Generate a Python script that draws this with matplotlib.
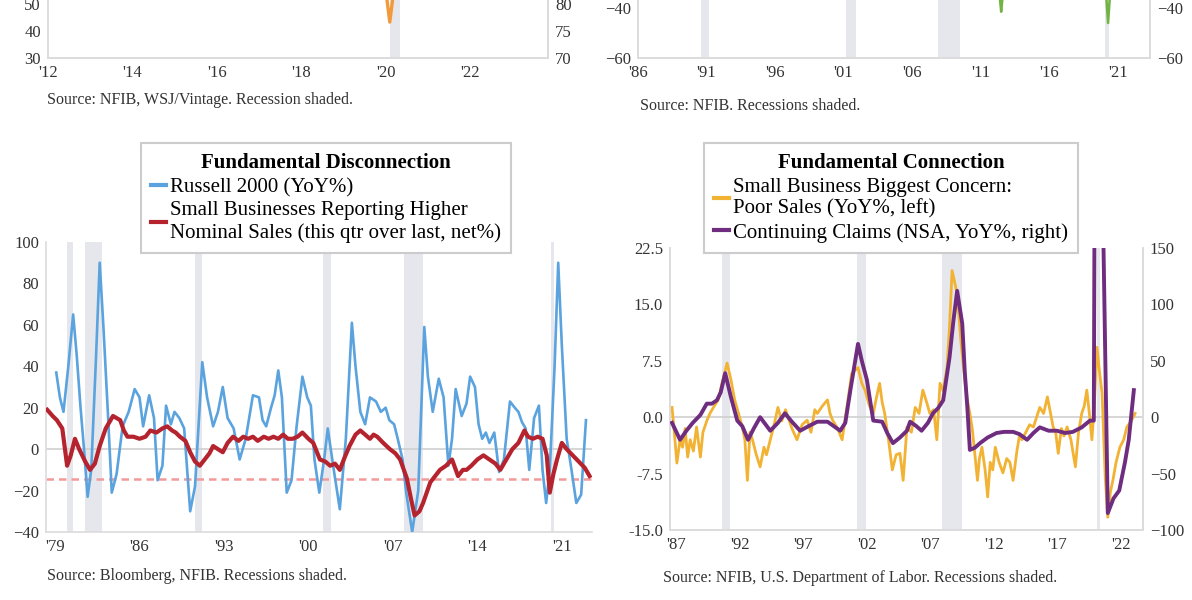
import numpy as np
import matplotlib
matplotlib.use("Agg")
import matplotlib.pyplot as plt
from matplotlib.lines import Line2D

plt.rcParams['font.family'] = ['Liberation Serif', 'DejaVu Serif']

W, H = 1192, 600

# NBER recessions (start, end), decimal years
recessions = [(1980.0, 1980.5), (1981.5, 1982.9), (1990.6, 1991.2),
              (2001.2, 2001.9), (2007.9, 2009.5), (2020.1, 2020.35)]

# --- top-left panel (only the bottom strip is visible) ---
orange_t = [2019.5, 2019.95, 2020.1, 2020.25, 2020.7]
orange_v = [70, 62, 43.3, 62, 70]

# --- top-right panel (only the bottom strip is visible) ---
green_t = [2011.8, 2012.3, 2012.5, 2012.7, 2013.2,
           2019.6, 2020.1, 2020.3, 2020.5, 2021.0]
green_v = [-25, -30, -41.5, -30, -22, -20, -30, -46, -30, -18]

# --- Fundamental Disconnection ---
russell_t = [1979.1, 1979.4, 1979.7, 1980.1, 1980.5, 1980.8, 1981.1, 1981.4,
             1981.7, 1982.0, 1982.4, 1982.7, 1983.0, 1983.4, 1983.7, 1984.1,
             1984.6, 1985.1, 1985.6, 1986.0, 1986.3, 1986.8, 1987.2, 1987.5,
             1987.9, 1988.2, 1988.6, 1988.9, 1989.3, 1989.7, 1990.2, 1990.6,
             1991.2, 1991.6, 1992.1, 1992.5, 1992.9, 1993.3, 1993.8, 1994.3,
             1994.8, 1995.4, 1995.9, 1996.2, 1996.5, 1996.9, 1997.2, 1997.5,
             1997.8, 1998.2, 1998.6, 1999.0, 1999.5, 1999.9, 2000.2, 2000.5,
             2000.9, 2001.3, 2001.6, 2002.1, 2002.6, 2003.1, 2003.6, 2003.9,
             2004.3, 2004.7, 2005.1, 2005.6, 2006.0, 2006.4, 2006.7, 2007.1,
             2007.4, 2007.8, 2008.1, 2008.6, 2009.1, 2009.6, 2009.9, 2010.3,
             2010.8, 2011.2, 2011.6, 2011.9, 2012.2, 2012.7, 2013.1, 2013.4,
             2013.8, 2014.1, 2014.4, 2014.7, 2015.0, 2015.4, 2015.8, 2016.2,
             2016.7, 2017.1, 2017.4, 2017.7, 2018.0, 2018.3, 2018.7, 2019.1,
             2019.4, 2019.7, 2020.0, 2020.4, 2020.7, 2021.0, 2021.4, 2021.8,
             2022.2, 2022.6, 2023.0]
russell_v = [37, 25, 18, 40, 65, 45, 21, 0,
             -23, -10, 45, 90, 60, 15, -21, -12,
             11, 18, 29, 25, 11, 26, 15, -15,
             -8, 21, 12, 18, 15, 10, -30, -18,
             42, 25, 11, 18, 30, 15, 10, -5,
             5, 26, 25, 14, 11, 20, 26, 38,
             25, -21, -15, 10, 35, 25, 21, -5,
             -21, -5, 10, -10, -29, 5, 61, 40,
             18, 12, 25, 23, 18, 20, 14, 12,
             5, -5, -21, -40, -20, 59, 35, 18,
             34, 25, -8, 5, 29, 16, 22, 35,
             30, 12, 5, 8, 3, 8, -11, -5,
             23, 20, 18, 13, 10, -10, 15, 21,
             -10, -26, -10, 40, 90, 50, 5, -10,
             -26, -22, 14]

sales_t = [1978.35, 1978.8, 1979.15, 1979.6, 1980.0, 1980.3, 1980.65, 1981.0,
           1981.5, 1981.9, 1982.3, 1982.7, 1983.2, 1983.8, 1984.1, 1984.4,
           1984.7, 1985.0, 1985.5, 1986.0, 1986.5, 1986.9, 1987.4, 1987.9,
           1988.3, 1988.7, 1989.0, 1989.35, 1989.8, 1990.2, 1990.6, 1991.0,
           1991.4, 1991.8, 1992.1, 1992.5, 1992.9, 1993.3, 1993.75, 1994.2,
           1994.6, 1995.0, 1995.4, 1995.8, 1996.3, 1996.7, 1997.1, 1997.5,
           1997.9, 1998.3, 1998.7, 1999.1, 1999.5, 2000.0, 2000.4, 2000.95,
           2001.4, 2001.8, 2002.2, 2002.6, 2003.0, 2003.4, 2003.9, 2004.3,
           2004.7, 2005.1, 2005.4, 2005.7, 2006.2, 2006.75, 2007.2, 2007.6,
           2008.15, 2008.5, 2008.8, 2009.2, 2009.5, 2010.1, 2010.5, 2010.9,
           2011.4, 2011.9, 2012.4, 2012.8, 2013.1, 2013.5, 2014.0, 2014.5,
           2015.0, 2015.5, 2015.9, 2016.4, 2016.9, 2017.4, 2017.9, 2018.2,
           2018.6, 2019.0, 2019.4, 2019.75, 2020.0, 2020.3, 2020.6, 2021.0,
           2021.4, 2021.9, 2022.4, 2022.9, 2023.3]
sales_v = [19, 16, 14, 10, -8, -3, 5, 0,
           -6, -10, -7, 1.5, 10, 16, 15, 14,
           9, 6, 6, 5, 6, 9, 8, 10,
           11, 9, 8, 6, 4, -1.5, -6, -8,
           -5, -2, 1.5, 0, -1.5, 3, 6, 4,
           6, 5, 6, 4, 6, 5, 6, 5,
           7, 5, 5, 6, 8, 5, 3, -5,
           -6, -8, -7, -10, -4, 1.5, 7, 9,
           7, 5, 7, 6, 3, 0, -2, -5,
           -14, -24, -32, -30, -26, -16, -13, -10,
           -8, -5, -13, -10, -10, -8, -5, -3,
           -5, -7, -10, -5, 0, 3, 9, 6,
           5, 6, 5, -3, -21, -12, -5, 3,
           0, -3, -6, -9, -13]
sales_threshold = -14.5

# --- Fundamental Connection ---
poor_sales_t = [1986.67, 1986.85, 1987.05, 1987.3, 1987.5, 1987.7, 1987.9, 1988.1,
                1988.35, 1988.6, 1988.9, 1989.1, 1989.4, 1989.65, 1990.0, 1990.3,
                1990.6, 1991.0, 1991.3, 1991.6, 1991.9, 1992.2, 1992.4, 1992.6,
                1992.8, 1993.0, 1993.3, 1993.6, 1993.9, 1994.1, 1994.4, 1994.7,
                1995.0, 1995.3, 1995.6, 1995.8, 1996.1, 1996.5, 1996.9, 1997.3,
                1997.6, 1997.9, 1998.1, 1998.5, 1998.9, 1999.1, 1999.3, 1999.7,
                2000.05, 2000.4, 2000.8, 2001.3, 2001.6, 2001.85, 2002.2, 2002.5,
                2002.8, 2003.0, 2003.2, 2003.4, 2003.7, 2004.0, 2004.3, 2004.6,
                2004.85, 2005.15, 2005.5, 2005.8, 2006.1, 2006.4, 2006.7, 2006.95,
                2007.25, 2007.5, 2007.75, 2008.0, 2008.3, 2008.5, 2008.7, 2008.9,
                2009.1, 2009.4, 2009.7, 2009.9, 2010.1, 2010.3, 2010.5, 2010.7,
                2010.85, 2011.05, 2011.3, 2011.5, 2011.7, 2011.9, 2012.1, 2012.4,
                2012.7, 2013.0, 2013.25, 2013.5, 2013.8, 2014.0, 2014.2, 2014.5,
                2014.8, 2015.1, 2015.35, 2015.6, 2015.9, 2016.2, 2016.45, 2016.65,
                2016.85, 2017.05, 2017.3, 2017.5, 2017.75, 2018.05, 2018.4, 2018.65,
                2018.9, 2019.1, 2019.3, 2019.5, 2019.7, 2019.9, 2020.1, 2020.3,
                2020.5, 2020.75, 2020.95, 2021.15, 2021.35, 2021.6, 2021.9, 2022.2,
                2022.45, 2022.8, 2023.1]
poor_sales_v = [1.3, -2, -6.1, -3, -4, -1.5, -5.3, -3,
                -4.5, -1.3, -5.3, -2, -0.5, 0.5, 1.5, 2.3,
                4.5, 7.2, 5, 2.3, 0.5, -1.3, -3, -8.4,
                -2, -3, -5, -6.6, -4, -5, -3, -1,
                1.3, -0.5, 1, 0, -1.5, -3, -1, -0.4,
                -2, 1, 0.5, 1.5, 2.3, 0.5, -0.4, -1.5,
                -3, 1, 5.8, 6.6, 4.5, 3.6, 1.5, 0.5,
                3, 4.5, 2, 0.5, -3, -7, -5, -4.8,
                -8.4, -1.3, -2, 1.3, 0.5, 3.6, 2, 0.5,
                1, -3, 4.5, 3.5, 6.6, 12, 19.5, 18,
                16.4, 10, 5, 2.3, 0.5, -1.7, -5, -8.4,
                -5.5, -4, -7, -10.6, -6, -7, -4, -6,
                -7.4, -5.5, -6, -8.4, -4.5, -2.5, -3, -2,
                -1, -1.3, 0, 1.3, 0.5, 2.7, 0.5, -1.3,
                -2, -4.8, -1.5, -2.5, -1.3, -3, -6.6, -2,
                0.5, 1.5, 3.6, 0.5, -3, 2, 9.3, 6,
                3.2, -8, -13.3, -10, -8.4, -6, -4, -3,
                -1.3, -0.5, 0.5]

claims_t = [1986.67, 1987.3, 1987.8, 1988.3, 1988.9, 1989.4, 1989.8, 1990.2,
            1990.5, 1990.85, 1991.3, 1991.8, 1992.2, 1992.65, 1993.1, 1993.6,
            1994.0, 1994.4, 1995.0, 1995.55, 1996.1, 1996.75, 1997.4, 1998.1,
            1998.9, 1999.4, 1999.9, 2000.3, 2000.7, 2001.3, 2001.6, 2002.0,
            2002.5, 2003.2, 2003.6, 2004.05, 2004.6, 2005.15, 2005.4, 2005.9,
            2006.3, 2006.8, 2007.2, 2007.6, 2008.0, 2008.5, 2008.8, 2009.1,
            2009.5, 2009.7, 2009.9, 2010.1, 2010.5, 2010.9, 2011.5, 2012.2,
            2012.8, 2013.5, 2014.0, 2014.6, 2015.1, 2015.6, 2016.3, 2016.95,
            2017.6, 2018.2, 2018.9, 2019.55, 2019.85, 2019.9, 2019.95, 2020.55,
            2020.6, 2020.95, 2021.4, 2021.85, 2022.3, 2022.6, 2023.0]
claims_v = [-5, -20, -12, -5, 2, 12, 12, 15,
            22, 39, 18, -3, -8, -20, -10, 0,
            -6, -12, -5, 3.5, -4, -12, -8, -4,
            -4, -8, -12, -5, 24, 65, 50, 33,
            -3, -4, -14, -23, -18, -12, -4, -8,
            -12, -5, 3.5, 8, 15, 53, 85, 112,
            83, 40, 9, -29, -27, -23, -18, -14,
            -13, -13, -15, -20, -14, -9, -12, -12,
            -14, -13, -9, -3, -3, 160, 1100, 1100,
            160, -85, -72, -65, -40, -20, 24]

TICK_SIZE = 12
SRC_SIZE = 11.5
LEG_SIZE = 15


def px_box(left, right, top, bottom):
    """Axes rectangle from pixel edges of the 1192x600 canvas."""
    return [left / W, 1 - bottom / H, (right - left) / W, (bottom - top) / H]


def style_axes(ax, right=True):
    for side in ['left', 'bottom', 'right']:
        ax.spines[side].set_color('#DCDCDC')
        ax.spines[side].set_linewidth(1.2)
    ax.spines['top'].set_visible(False)
    if not right:
        ax.spines['right'].set_visible(False)
    ax.tick_params(length=0, labelsize=TICK_SIZE, colors='#333333', pad=5)


def shade(ax, x0, x1):
    for a, b in recessions:
        if b > x0 and a < x1:
            ax.axvspan(a, b, color='#E5E7EC', lw=0, zorder=0)


def year_ticks(ax, years):
    ax.set_xticks(years)
    ax.set_xticklabels([f"'{y % 100:02d}" for y in years])


def panel_legend(fig, handles, labels, title, x_center):
    leg = fig.legend(handles, labels, title=title,
                     loc='upper center', bbox_to_anchor=(x_center / W, 1 - 143 / H),
                     borderaxespad=0, fontsize=LEG_SIZE,
                     title_fontproperties={'weight': 'bold', 'size': LEG_SIZE},
                     handlelength=0.7, handletextpad=0.2, labelspacing=0.2,
                     borderpad=0.5, fancybox=False, edgecolor='#CCCCCC',
                     framealpha=1)
    leg.get_frame().set_linewidth(1.5)
    return leg


fig = plt.figure(figsize=(W / 100, H / 100), dpi=100)

# top-left
ax = fig.add_axes(px_box(48, 548, -23, 58))
xlim = (2012.0, 2023.85)
shade(ax, *xlim)
ax.plot(orange_t, orange_v, color='#F29A3A', lw=2.4, zorder=3)
ax.set_xlim(*xlim)
ax.set_ylim(30, 60)
ax.set_yticks([30, 40, 50, 60])
year_ticks(ax, list(range(2012, 2024, 2)))
style_axes(ax)
axr = ax.twinx()
axr.set_ylim(70, 85)
axr.set_yticks([70, 75, 80, 85])
style_axes(axr)
fig.text(47 / W, 1 - 100 / H, "Source: NFIB, WSJ/Vintage. Recession shaded.",
         fontsize=SRC_SIZE, color='#333333', va='center')

# top-right
ax = fig.add_axes(px_box(638, 1150, -42, 58))
xlim = (1986.18, 2023.36)
shade(ax, *xlim)
ax.plot(green_t, green_v, color='#72B443', lw=1.8, zorder=3)
ax.set_xlim(*xlim)
ax.set_ylim(-60, -20)
ax.set_yticks([-60, -40, -20])
year_ticks(ax, list(range(1986, 2024, 5)))
style_axes(ax)
axr = ax.twinx()
axr.set_ylim(-60, -20)
axr.set_yticks([-60, -40, -20])
style_axes(axr)
fig.text(640 / W, 1 - 106 / H, "Source: NFIB. Recessions shaded.",
         fontsize=SRC_SIZE, color='#333333', va='center')

# bottom-left: Fundamental Disconnection
ax = fig.add_axes(px_box(46, 592, 242, 532))
xlim = (1978.25, 2023.5)
shade(ax, *xlim)
ax.axhline(0, color='#D0D0D0', lw=1.2, zorder=1)
ax.axhline(sales_threshold, color='#F29A9A', lw=1.8, ls=(0, (3, 2)), zorder=2)
ax.plot(russell_t, russell_v, color='#5AA3DE', lw=1.9, zorder=3)
ax.plot(sales_t, sales_v, color='#B5242E', lw=3.0, zorder=4)
ax.set_xlim(*xlim)
ax.set_ylim(-40, 100)
ax.set_yticks(range(-40, 101, 20))
year_ticks(ax, list(range(1979, 2024, 7)))
style_axes(ax, right=False)
fig.text(47 / W, 1 - 576 / H, "Source: Bloomberg, NFIB. Recessions shaded.",
         fontsize=SRC_SIZE, color='#333333', va='center')

panel_legend(fig,
             [Line2D([], [], color='#5AA3DE', lw=3),
              Line2D([], [], color='#B5242E', lw=3)],
             ["Russell 2000 (YoY%)",
              "Small Businesses Reporting Higher\nNominal Sales (this qtr over last, net%)"],
             "Fundamental Disconnection", 326)

# bottom-right: Fundamental Connection
ax = fig.add_axes(px_box(670, 1143, 248, 530))
xlim = (1986.51, 2023.72)
shade(ax, *xlim)
ax.axhline(0, color='#D0D0D0', lw=1.2, zorder=1)
ax.plot(poor_sales_t, poor_sales_v, color='#F2B233', lw=2.0, zorder=3)
ax.set_xlim(*xlim)
ax.set_ylim(-15, 22.5)
left_ticks = np.arange(-15, 22.6, 7.5)
ax.set_yticks(left_ticks)
ax.set_yticklabels([f"{v:.1f}" for v in left_ticks])
year_ticks(ax, list(range(1987, 2024, 5)))
style_axes(ax)
axr = ax.twinx()
axr.plot(claims_t, claims_v, color='#6F2D80', lw=2.8, zorder=4)
axr.set_xlim(*xlim)
axr.set_ylim(-100, 150)
axr.set_yticks(range(-100, 151, 50))
style_axes(axr)
fig.text(663 / W, 1 - 578 / H, "Source: NFIB, U.S. Department of Labor. Recessions shaded.",
         fontsize=SRC_SIZE, color='#333333', va='center')

panel_legend(fig,
             [Line2D([], [], color='#F2B233', lw=3),
              Line2D([], [], color='#6F2D80', lw=3)],
             ["Small Business Biggest Concern:\nPoor Sales (YoY%, left)",
              "Continuing Claims (NSA, YoY%, right)"],
             "Fundamental Connection", 891)

fig.savefig("out.png", dpi=100)
